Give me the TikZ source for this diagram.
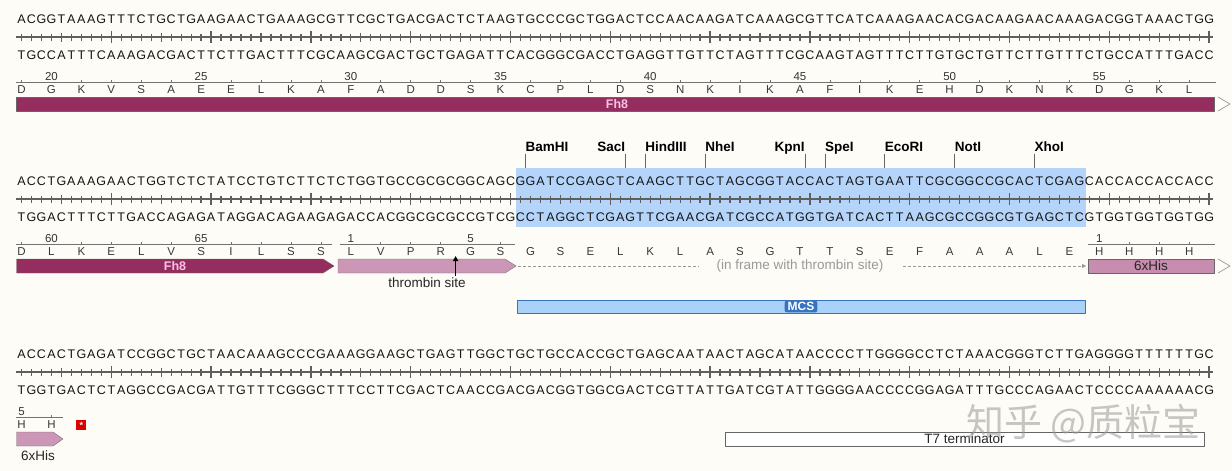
\documentclass[tikz,border=0pt]{standalone}
\usepackage{fontspec}
\setmainfont{Liberation Sans}
\newfontfamily\cjkfont{Noto Sans CJK SC}
\usetikzlibrary{arrows.meta}

\definecolor{bgcream}{RGB}{253,252,246}
\definecolor{fhcol}{RGB}{150,45,95}
\definecolor{fhtext}{RGB}{250,195,228}
\definecolor{thrcol}{RGB}{204,150,182}
\definecolor{hiscol}{RGB}{200,140,175}
\definecolor{mcsfill}{RGB}{170,210,248}
\definecolor{mcsdark}{RGB}{55,115,190}
\definecolor{hilite}{RGB}{180,212,250}
\definecolor{rulergray}{RGB}{95,95,95}

% one letter per base (or per codon with pitch 29.94)
\makeatletter
\newcount\seqi
\newcommand\seqrow[4][9.98]{%
  \global\seqi=0
  \@tfor\seqch:=#4\do{%
    \node[#3] at ({21.5+#1*\the\seqi},#2) {\seqch};
    \global\advance\seqi by 1\relax}}
\makeatother

% ruler between the two strands
\newcommand\dnaruler[1]{%
  \draw[ruler] (16,#1) -- (1213,#1);
  \foreach \i in {1,...,120}{%
    \pgfmathsetmacro\tk{mod(\i,10)==0 ? 6 : (mod(\i,5)==0 ? 4.5 : 3.5)}
    \draw[ruler,line width=1.3pt] ({21.5+9.98*(\i-1)},#1-\tk) -- ++(0,2*\tk);}}

\begin{document}
\begin{tikzpicture}[x=1pt,y=-1pt,>=Stealth,line join=round,
    ntbase/.style={inner sep=0,text=black!92,font=\fontsize{12.5}{14}\selectfont},
    aacode/.style={inner sep=0,text=black!78,font=\fontsize{11.5}{13}\selectfont},
    aanum/.style={inner sep=0,text=black!80,font=\fontsize{11.5}{13}\selectfont},
    ruler/.style={draw=rulergray,line width=1.4pt},
    aaline/.style={draw=black!55,line width=0.6pt},
    enzlabel/.style={inner sep=0,font=\bfseries\fontsize{13.5}{15}\selectfont},
    enzline/.style={draw=black!60,line width=0.6pt},
    fhlabel/.style={inner sep=0,text=fhtext,font=\bfseries\fontsize{12.5}{14}\selectfont},
    featlabel/.style={inner sep=0,text=black!85,font=\fontsize{13.5}{15}\selectfont},
    chev/.style={draw=black!40,line width=0.7pt}]

\fill[bgcream] (0,0) rectangle (1232,471);
\useasboundingbox (0,0) rectangle (1232,471);

% MCS highlight
\fill[hilite] (515.5,168) rectangle (1086,227);

% restriction sites
\foreach \ename/\ecut/\eanc in {BamHI/50.5/west,SacI/60.5/east,HindIII/62.5/west,
    NheI/68.5/west,KpnI/78.5/east,SpeI/80.5/west,EcoRI/86.5/west,NotI/93.5/west,XhoI/101.5/west}{
  \node[enzlabel,anchor=base \eanc] (\ename) at ({21.5+9.98*\ecut},151) {\ename};
  \coordinate (\ename-cut) at ({21.5+9.98*\ecut},168);
  \draw[enzline] ([yshift=-2.5pt]\ename.base \eanc) -- (\ename-cut);
}

% block 1
\seqrow{19}{ntbase}{ACGGTAAAGTTTCTGCTGAAGAACTGAAAGCGTTCGCTGACGACTCTAAGTGCCCGCTGGACTCCAACAAGATCAAAGCGTTCATCAAAGAACACGACAAGAACAAAGACGGTAAACTGG}
\dnaruler{37}
\seqrow{55}{ntbase}{TGCCATTTCAAAGACGACTTCTTGACTTTCGCAAGCGACTGCTGAGATTCACGGGCGACCTGAGGTTGTTCTAGTTTCGCAAGTAGTTTCTTGTGCTGTTCTTGTTTCTGCCATTTGACC}
\seqrow[29.94]{90}{aacode}{DGKVSAEELKAFADDSKCPLDSNKIKAFIKEHDKNKDGKL}
\draw[aaline] (16,82.5) -- (1216,82.5);
\foreach \k in {0,2,3,4,5,7,8,9,10,12,13,14,15,17,18,19,20,22,23,24,25,27,28,29,30,32,33,34,35,37,38,39}
  \draw[aaline] ({21.5+29.94*\k},82.5) -- ++(0,-3);
\foreach \k/\n in {1/20,6/25,11/30,16/35,21/40,26/45,31/50,36/55}
  \node[aanum] at ({21.5+29.94*\k},76.5) {\n};
\draw[fill=fhcol,draw=black!60] (16.5,97) rectangle (1214,111);
\node[fhlabel] (fh8a) at (617,104) {Fh8};
\draw[chev] (1218,97) -- (1230,104) -- (1218,111);

% block 2
\seqrow{181}{ntbase}{ACCTGAAAGAACTGGTCTCTATCCTGTCTTCTCTGGTGCCGCGCGGCAGCGGATCCGAGCTCAAGCTTGCTAGCGGTACCACTAGTGAATTCGCGGCCGCACTCGAGCACCACCACCACC}
\dnaruler{199}
\seqrow{217}{ntbase}{TGGACTTTCTTGACCAGAGATAGGACAGAAGAGACCACGGCGCGCCGTCGCCTAGGCTCGAGTTCGAACGATCGCCATGGTGATCACTTAAGCGCCGGCGTGAGCTCGTGGTGGTGGTGG}
\seqrow[29.94]{252}{aacode}{DLKELVSILSSLVPRGSGSELKLASGTTSEFAAALEHHHH}
\draw[aaline] (16,244.5) -- (332,244.5);
\draw[aaline] (340,244.5) -- (515,244.5);
\draw[aaline] (1088,244.5) -- (1215,244.5);
\foreach \k in {0,2,3,4,5,7,8,9,10,12,13,14,16,37,38,39}
  \draw[aaline] ({21.5+29.94*\k},244.5) -- ++(0,-3);
\foreach \k/\n in {1/60,6/65,11/1,15/5,36/1}
  \node[aanum] at ({21.5+29.94*\k},238.5) {\n};
\draw[fill=fhcol,draw=black!60] (16.5,259) -- (323,259) -- (334,266) -- (323,273) -- (16.5,273) -- cycle;
\node[fhlabel] (fh8b) at (175,266) {Fh8};
\draw[fill=thrcol,draw=black!55] (338,259) -- (505,259) -- (516,266) -- (505,273) -- (338,273) -- cycle;
\coordinate (cleave) at (455.6,276);
\draw[-{Triangle[length=5pt,width=5pt]},line width=1.6pt] (cleave) -- ++(0,-20);
\node[featlabel] (thrlab) at (427,282.5) {thrombin site};
\coordinate (frameA) at (518,266);
\coordinate (frameB) at (1086,266);
\draw[draw=black!40,dash pattern=on 3pt off 2pt,-{Triangle[length=4pt,width=4pt]}] (frameA) -- (frameB);
\node[featlabel,text=black!40,fill=bgcream,inner xsep=18pt,inner ysep=2pt] (inframe) at (800,266) {(in frame with thrombin site)};
\draw[fill=hiscol,draw=black!60] (1088,259) rectangle (1214,273);
\node[featlabel] (hisa) at (1151,266) {6xHis};
\draw[chev] (1218,259) -- (1230,266) -- (1218,273);
\draw[fill=mcsfill,draw=mcsdark] (517,300) rectangle (1085,313);
\node[fill=mcsdark,text=white,rounded corners=2pt,inner xsep=3pt,inner ysep=1.5pt,
  font=\bfseries\fontsize{12}{13}\selectfont] (mcs) at (801,306.5) {MCS};

% block 3
\seqrow{354}{ntbase}{ACCACTGAGATCCGGCTGCTAACAAAGCCCGAAAGGAAGCTGAGTTGGCTGCTGCCACCGCTGAGCAATAACTAGCATAACCCCTTGGGGCCTCTAAACGGGTCTTGAGGGGTTTTTTGC}
\dnaruler{372}
\seqrow{390}{ntbase}{TGGTGACTCTAGGCCGACGATTGTTTCGGGCTTTCCTTCGACTCAACCGACGACGGTGGCGACTCGTTATTGATCGTATTGGGGAACCCCGGAGATTTGCCCAGAACTCCCCAAAAAACG}
\seqrow[29.94]{425}{aacode}{HH}
\draw[aaline] (16,417.5) -- (63,417.5);
\draw[aaline] (51.4,417.5) -- ++(0,-3);
\node[aanum] at (21.5,411.5) {5};
\node[fill=red!85!black,text=white,inner sep=0,minimum size=10pt,
  font=\bfseries\fontsize{9}{9}\selectfont] (stop) at (81.4,425) {*};
\draw[fill=thrcol,draw=black!55] (16.5,432) -- (53,432) -- (63,439) -- (53,446) -- (16.5,446) -- cycle;
\node[featlabel] (hisb) at (38,456) {6xHis};
\draw[fill=white,draw=black!60] (725,432) rectangle (1204,446);
\node[featlabel] (t7) at (964.5,439) {T7 terminator};
\node[text=black!40,opacity=.55,anchor=east,inner sep=0,
  font=\cjkfont\fontsize{38}{40}\selectfont] (wm) at (1201,424) {知乎 @质粒宝};
\end{tikzpicture}
\end{document}
